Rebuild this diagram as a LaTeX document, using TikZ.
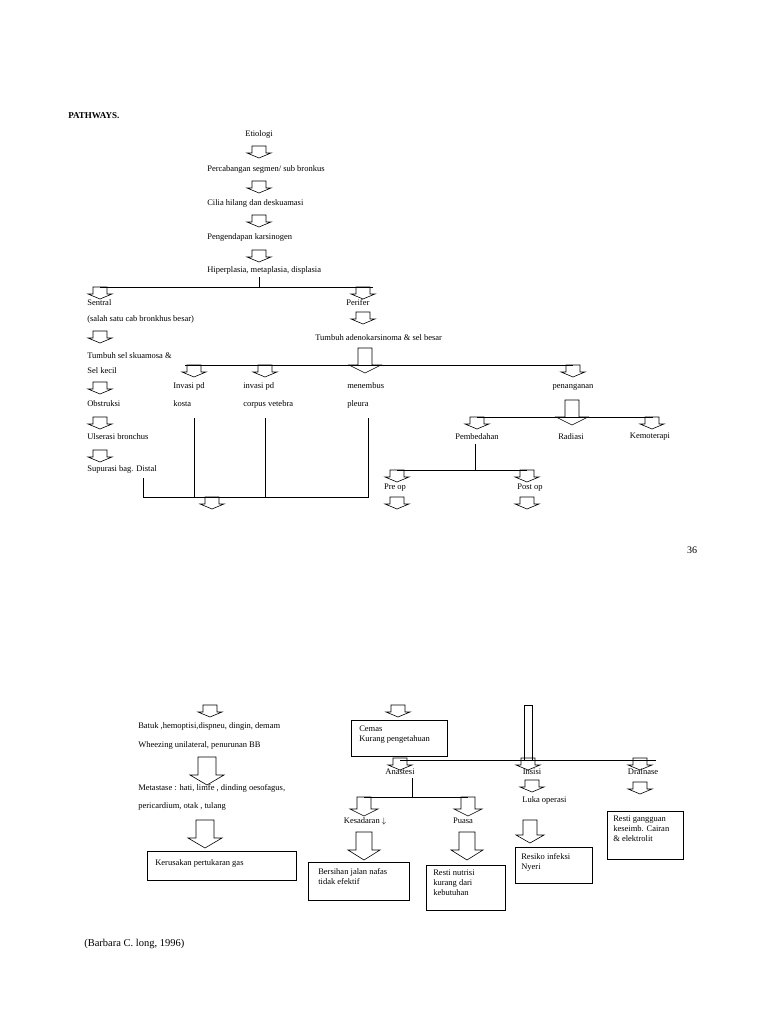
\documentclass[tikz,border=0pt]{standalone}
\usepackage{fontspec}
\setmainfont{Liberation Serif}
\tikzset{
  txt/.style={font=\fontsize{8.5}{10}\selectfont, inner sep=0pt, anchor=west},
  ctxt/.style={font=\fontsize{8.5}{10}\selectfont, inner sep=0pt},
  boxtxt/.style={font=\fontsize{8.5}{10}\selectfont, inner sep=0pt, anchor=north west, align=left}
}
% block arrow: x, ytop, stem half width, stem length, head half width, head length
\newcommand{\barr}[6]{\draw (#1-#3,#2) -- (#1+#3,#2) -- (#1+#3,#2+#4) -- (#1+#5,#2+#4) -- (#1,#2+#4+#6) -- (#1-#5,#2+#4) -- (#1-#3,#2+#4) -- cycle;}
\newcommand{\sarr}[2]{\barr{#1}{#2}{7}{7}{12}{5}}
\newcommand{\marr}[2]{\barr{#1}{#2}{8}{17}{16}{9}}

\begin{document}
\begin{tikzpicture}[x=1pt, y=-1pt, line width=0.6pt]

    \useasboundingbox (0,0) rectangle (768,1024);

    \node[txt, font=\fontsize{9}{10}\selectfont\bfseries] (title) at (68,116) {PATHWAYS.};

    % main column
    \node[ctxt] (etio) at (259,134) {Etiologi};
    \sarr{259}{146}
    \node[txt] (perc) at (207,169) {Percabangan segmen/ sub bronkus};
    \sarr{259}{181}
    \node[txt] (cilia) at (207,203) {Cilia hilang dan deskuamasi};
    \sarr{259}{215}
    \node[txt] (peng) at (207,237) {Pengendapan karsinogen};
    \sarr{259}{250}
    \node[txt] (hiper) at (207,270) {Hiperplasia, metaplasia, displasia};

    \coordinate (h1) at (259,277);
    \coordinate (h1b) at (259,287);
    \draw (h1) -- (h1b);
    \draw (100,287) -- (373,287);
    \sarr{100}{287}
    \sarr{363}{287}

    % sentral branch
    \node[txt] (sentral) at (87,303) {Sentral};
    \node[txt] (salah) at (87,319) {(salah satu cab bronkhus besar)};
    \sarr{100}{331}
    \node[txt] (tumbuh) at (87,356) {Tumbuh sel skuamosa \&};
    \node[txt] (selkecil) at (87,371) {Sel kecil};
    \sarr{100}{382}
    \node[txt] (obs) at (87,404) {Obstruksi};
    \sarr{100}{417}
    \node[txt] (ulser) at (87,437) {Ulserasi bronchus};
    \sarr{100}{450}
    \node[txt] (supur) at (87,469) {Supurasi bag. Distal};

    % perifer branch
    \node[txt] (perifer) at (346,303) {Perifer};
    \sarr{363}{312}
    \node[txt] (adeno) at (315,338) {Tumbuh adenokarsinoma \& sel besar};
    \barr{365}{348}{7}{17}{16}{8}
    \draw (185,365) -- (573,365);
    \sarr{194}{365}
    \sarr{265}{365}
    \sarr{573}{365}
    \node[txt] (inv1) at (173,386) {Invasi pd};
    \node[txt] (kosta) at (173,404) {kosta};
    \node[txt] (inv2) at (243,386) {invasi pd};
    \node[txt] (corpus) at (243,404) {corpus vetebra};
    \node[txt] (menembus) at (347,386) {menembus};
    \node[txt] (pleura) at (347,404) {pleura};

    % penanganan
    \node[ctxt] (penang) at (573,387) {penanganan};
    \barr{572}{400}{7}{17}{16}{8}
    \draw (477,417) -- (653,417);
    \sarr{477}{417}
    \sarr{652}{417}
    \node[ctxt] (bedah) at (477,437) {Pembedahan};
    \node[ctxt] (radiasi) at (571,437) {Radiasi};
    \node[ctxt] (kemo) at (650,437) {Kemoterapi};
    \draw (475,444) -- (475,470);
    \draw (397,470) -- (527,470);
    \sarr{397}{470}
    \sarr{527}{470}
    \node[ctxt] (preop) at (395,488) {Pre op};
    \node[ctxt] (postop) at (530,488) {Post op};
    \sarr{397}{497}
    \sarr{527}{497}

    % merge
    \draw (143,478) -- (143,497) -- (368,497) -- (368,418);
    \draw (194,418) -- (194,497);
    \draw (265,418) -- (265,497);
    \sarr{212}{497}

    \node[ctxt, font=\fontsize{10}{12}\selectfont] (page) at (692,550) {36};

    % lower part, left column
    \sarr{210}{705}
    \node[txt] (batuk) at (138,726) {Batuk ,hemoptisi,dispneu, dingin, demam};
    \node[txt] (wheez) at (138,745) {Wheezing unilateral, penurunan BB};
    \barr{207}{757}{9}{18}{17}{10}
    \node[txt] (meta) at (138,788) {Metastase : hati, limfe , dinding oesofagus,};
    \node[txt] (peri) at (138,806) {pericardium, otak , tulang};
    \barr{205}{820}{9}{18}{17}{10}
    \draw (147,851) rectangle (296,880);
    \node[boxtxt] (kerus) at (155,859) {Kerusakan pertukaran gas};

    % lower part, right
    \sarr{398}{705}
    \draw (351,720) rectangle (447,756);
    \node[boxtxt] (cemas) at (359,726) {Cemas\\Kurang pengetahuan};
    \draw (400,760) -- (656,760);
    \draw (524,705) -- (532,705) -- (532,760) -- (524,760) -- cycle;
    \sarr{400}{758}
    \sarr{528}{758}
    \sarr{640}{758}
    \node[ctxt] (anas) at (400,772) {Anastesi};
    \node[ctxt] (insisi) at (532,772) {Insisi};
    \node[ctxt] (drain) at (643,772) {Drainase};

    \draw (412,778) -- (412,797);
    \draw (364,797) -- (468,797);
    \barr{364}{797}{7}{12}{14}{7}
    \barr{468}{797}{7}{12}{14}{7}
    \node[ctxt] (sadar) at (365,821) {Kesadaran $\downarrow$};
    \node[ctxt] (puasa) at (463,821) {Puasa};
    \barr{364}{832}{8}{18}{16}{10}
    \barr{467}{832}{8}{18}{16}{10}
    \draw (308,862) rectangle (409,900);
    \node[boxtxt] (bersih) at (318,868) {Bersihan jalan nafas\\tidak efektif};
    \draw (426,865) rectangle (505,910);
    \node[boxtxt] (resti) at (433,870) {Resti nutrisi\\kurang dari\\kebutuhan};

    \sarr{532}{780}
    \node[txt] (luka) at (522,800) {Luka operasi};
    \barr{530}{820}{7}{15}{14}{8}
    \draw (515,847) rectangle (592,883);
    \node[boxtxt] (resiko) at (521,853) {Resiko infeksi\\Nyeri};

    \sarr{640}{782}
    \draw (607,811) rectangle (683,859);
    \node[boxtxt] (gangg) at (613,816) {Resti gangguan\\keseimb. Cairan\\\& elektrolit};

    \node[txt, font=\fontsize{10.5}{12}\selectfont] (ref) at (84,944) {(Barbara C. long, 1996)};

\end{tikzpicture}
\end{document}
